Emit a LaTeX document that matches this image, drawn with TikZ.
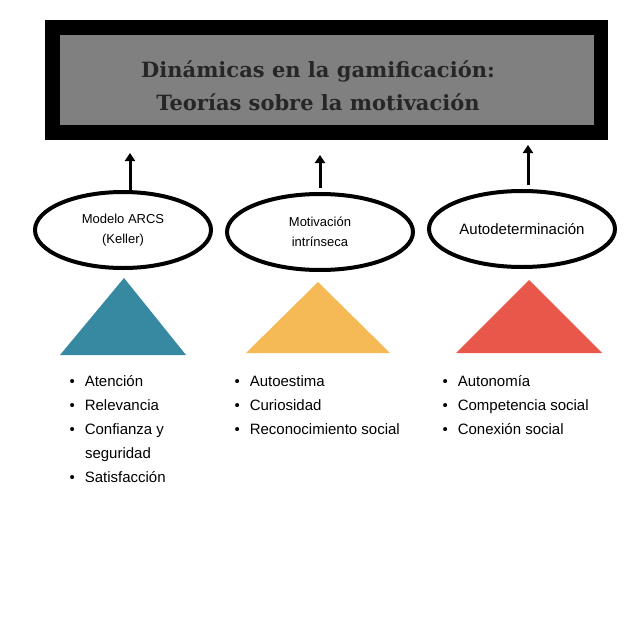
\documentclass[tikz,border=0pt]{standalone}
\usepackage{fontspec}
\setmainfont{Liberation Sans}
\newfontfamily\titlefont{DejaVu Serif}
\usetikzlibrary{shapes.geometric,arrows.meta}
\definecolor{teal1}{RGB}{54,137,160}
\definecolor{yel1}{RGB}{245,186,85}
\definecolor{red1}{RGB}{232,87,74}
\definecolor{gray1}{RGB}{128,128,128}
\begin{document}
\begin{tikzpicture}[x=1pt,y=-1pt,
  ell/.style={draw=black,line width=4pt,ellipse,fill=white,inner sep=0pt},
  up/.style={line width=3pt,-{Triangle[length=8pt,width=10pt]}},
  lst/.style={anchor=north west,align=left,font=\fontsize{15}{24}\selectfont}]
\useasboundingbox (0,0) rectangle (640,640);
\fill[white] (0,0) rectangle (640,640);
\fill[black] (45,20) rectangle (608,140);
\fill[gray1] (60,35) rectangle (594,125);
\node (title) at (318,86) [align=center,font=\titlefont\bfseries\fontsize{21}{33}\selectfont,text=black!85] {Dinámicas en la gamificación:\\Teorías sobre la motivación};
\node[ell,minimum width=176pt,minimum height=76pt,align=center,font=\fontsize{13}{20}\selectfont] (e1) at (123,230) {Modelo ARCS\\(Keller)};
\node[ell,minimum width=186pt,minimum height=76pt,align=center,font=\fontsize{13}{20}\selectfont] (e2) at (320,232) {Motivación\\intrínseca};
\node[ell,minimum width=186pt,minimum height=76pt,font=\fontsize{15}{20}\selectfont] (e3) at (522,229) {Autodeterminación};
\coordinate (t1) at (130,153);
\coordinate (t2) at (320,155);
\coordinate (t3) at (528,145);
\draw[up] (130,193) -- (t1);
\draw[up] (320,188) -- (t2);
\draw[up] (528,185) -- (t3);
\fill[teal1] (60,355) -- (186,355) -- (124,278) -- cycle;
\fill[yel1] (246,353) -- (390,353) -- (318,282) -- cycle;
\fill[red1] (456,353) -- (602,353) -- (529,280) -- cycle;
\node[lst] (l1) at (66,372) {\textbullet\hspace{10pt}Atención\\\textbullet\hspace{10pt}Relevancia\\\textbullet\hspace{10pt}Confianza y\\\hspace{15.5pt}seguridad\\\textbullet\hspace{10pt}Satisfacción};
\node[lst] (l2) at (231,372) {\textbullet\hspace{10pt}Autoestima\\\textbullet\hspace{10pt}Curiosidad\\\textbullet\hspace{10pt}Reconocimiento social};
\node[lst] (l3) at (439,372) {\textbullet\hspace{10pt}Autonomía\\\textbullet\hspace{10pt}Competencia social\\\textbullet\hspace{10pt}Conexión social};
\end{tikzpicture}
\end{document}
